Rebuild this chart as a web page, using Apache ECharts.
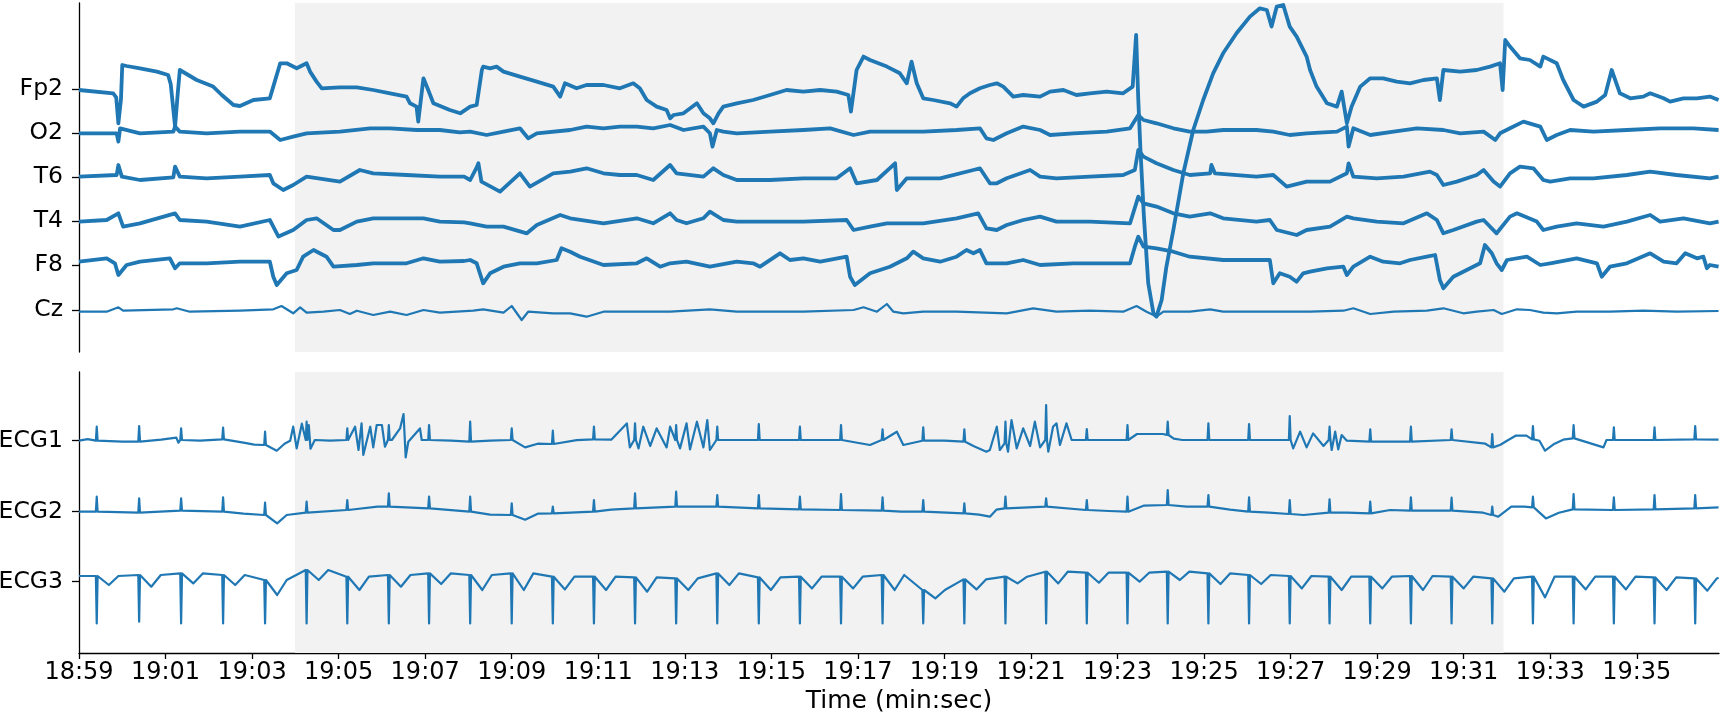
<!DOCTYPE html>
<html>
<head>
<meta charset="utf-8">
<script src="https://cdn.jsdelivr.net/npm/echarts@6/dist/echarts.min.js"></script>
<style>
  html, body { margin: 0; padding: 0; background: #fff; }
  #chart { width: 1724px; height: 721px; }
</style>
</head>
<body>
<div id="chart"></div>
<script>
// time axis: seconds after 18:59
const startSec = 18 * 60 + 59;
const xMax = 37.9;
const xTicks = [0, 2, 4, 6, 8, 10, 12, 14, 16, 18, 20, 22, 24, 26, 28, 30, 32, 34, 36];
const markedSpan = [4.99, 32.92];

// EEG channels, top panel (values are deviations from each channel's baseline)
const eegNames = ['Fp2', 'O2', 'T6', 'T4', 'F8', 'Cz'];
const eegOffsets = [220.7, 176.7, 132.7, 88.7, 45, 0];

const fp2 = [[0,-0.7],[0.79,-4],[0.86,-8],[0.91,-34],[0.97,-10],[1.00,24.3],[1.10,23.3],[1.41,21],[1.80,17.7],[2.06,14.3],[2.12,5],[2.22,-37.3],[2.28,-5],[2.33,19.3],[2.72,9.3],[3.10,2.7],[3.30,-5.7],[3.57,-15.7],[3.72,-16.7],[4.03,-10.7],[4.41,-9],[4.49,2.7],[4.65,26],[4.80,26],[5.03,21],[5.18,24.3],[5.26,26],[5.34,17.7],[5.49,7.7],[5.61,1],[6.03,2],[6.42,2],[6.80,-0.7],[7.19,-4],[7.57,-7.3],[7.65,-14],[7.80,-17.3],[7.84,-32.3],[7.96,11],[8.07,-0.7],[8.19,-14],[8.57,-20.7],[8.81,-24],[9.04,-17.3],[9.19,-15.7],[9.31,19.3],[9.34,22.7],[9.50,21],[9.65,22.7],[9.81,17.7],[10.19,12.7],[10.58,7.7],[10.96,2.7],[11.12,-7.3],[11.23,6],[11.50,1],[11.73,4.3],[12.12,4.3],[12.50,1],[12.81,6],[12.96,1],[13.12,-10.7],[13.35,-17.3],[13.58,-20.7],[13.66,-29],[13.74,-25.7],[13.97,-24],[14.28,-14],[14.43,-24],[14.58,-29],[14.66,-34],[14.78,-24],[14.89,-17.3],[15.20,-14],[15.58,-10.7],[15.97,-5.7],[16.35,-0.7],[16.74,-2.3],[17.13,-0.7],[17.51,-2.3],[17.78,-5.7],[17.84,-22.3],[17.97,19.3],[18.13,32.7],[18.28,29.3],[18.67,22.7],[18.97,16],[19.13,6],[19.24,27.7],[19.36,6],[19.51,-9],[19.74,-10.7],[20.13,-14],[20.28,-17.3],[20.43,-9],[20.59,-4],[20.82,1],[21.05,4.3],[21.21,6],[21.36,2.7],[21.59,-7.3],[21.82,-5.7],[22.21,-7.3],[22.44,-2.3],[22.75,-0.7],[23.05,-5.7],[23.36,-4],[23.75,-2.3],[24.13,-4],[24.35,2.7],[24.43,54.3],[24.48,-10.7],[24.53,-60.7],[24.61,-127.3],[24.71,-194],[24.83,-224],[24.90,-227.3],[25.02,-210.7],[25.13,-177.3],[25.29,-140.7],[25.52,-84],[25.75,-40.7],[25.98,-10.7],[26.21,16],[26.44,36],[26.75,56],[27.06,72.7],[27.29,81],[27.45,79.3],[27.56,62.7],[27.68,82.7],[27.83,84.3],[27.98,62.7],[28.14,52.7],[28.37,32.7],[28.45,19.3],[28.60,2.7],[28.84,-14],[29.07,-17.3],[29.18,-2.3],[29.30,-34],[29.41,-17.3],[29.61,2.7],[29.84,11],[30.14,11],[30.45,7.7],[30.76,6],[31.07,9.3],[31.38,11],[31.45,-10.7],[31.53,19.3],[31.92,17.7],[32.30,19.3],[32.61,22.7],[32.84,26],[32.90,-0.7],[32.96,49.3],[33.07,42.7],[33.30,31],[33.53,29.3],[33.77,22.7],[33.84,32.7],[34.15,26],[34.30,9.3],[34.54,-10.7],[34.77,-17.3],[35.08,-12.3],[35.27,-5.7],[35.42,19.3],[35.61,-4],[35.85,-9],[36.15,-7.3],[36.31,-4],[36.62,-9],[36.77,-12.3],[37.08,-9],[37.39,-9],[37.69,-7.3],[37.89,-10.7]];

const o2 = [[0,0],[0.87,0],[0.91,-8.3],[0.95,5],[1.41,0],[2.18,1.7],[2.22,6.7],[2.33,1.7],[2.95,0],[3.72,1.7],[4.41,1.7],[4.65,-6.7],[4.95,-3.3],[5.26,0],[6.03,1.7],[6.73,5],[7.19,5],[7.80,3.3],[8.34,3.3],[8.80,1],[9.04,1.7],[9.42,-1.7],[9.81,1.7],[10.19,5],[10.38,-5],[10.58,0],[11.35,3.3],[11.73,6.7],[12.12,5],[12.50,6.7],[12.89,6.7],[13.27,5],[13.66,8.3],[13.97,3.3],[14.43,6.7],[14.58,0],[14.64,-13.3],[14.74,3.3],[14.89,1.7],[15.20,0],[15.97,1.7],[16.74,3.3],[17.36,5],[17.90,-1.7],[18.28,1.7],[18.74,1.7],[19.51,1.7],[20.28,3.3],[20.82,5],[20.97,-5],[21.13,-6.7],[21.44,0],[21.82,6.7],[22.21,3.3],[22.44,-1.7],[22.98,0],[23.75,1.7],[24.29,5],[24.48,18.3],[24.60,13.3],[24.90,10],[25.29,5],[25.67,1.7],[26.06,1.7],[26.44,3.3],[27.21,3.3],[27.60,1.7],[27.98,-1.7],[28.37,0],[29.07,1.7],[29.30,6.7],[29.34,-13.3],[29.45,5],[29.84,-1.7],[30.38,1.7],[30.92,5],[31.53,3.3],[31.92,0],[32.46,1.7],[32.73,-6.7],[32.84,0],[33.07,5],[33.38,11.7],[33.77,6.7],[33.92,-6.7],[34.15,-1.7],[34.46,3.3],[35.00,1.7],[35.77,3.3],[36.54,5],[37.31,5],[37.89,3.3]];

const t6 = [[0,0.7],[0.87,2.3],[0.91,12.3],[0.99,0.7],[1.41,-2.7],[2.18,0],[2.22,10.7],[2.33,0.7],[2.95,-1],[3.72,0.7],[4.41,2.3],[4.49,-6],[4.72,-12.7],[4.95,-7.7],[5.26,0.7],[6.03,-4.3],[6.49,7.3],[6.80,4],[7.57,2.3],[8.34,0.7],[8.90,0.7],[9.04,-2.7],[9.20,10.7],[9.23,14],[9.30,-4.3],[9.73,-14.3],[10.19,4],[10.42,-9.3],[10.96,4],[11.35,5.7],[11.73,9],[12.12,4],[12.50,2.3],[12.89,2.3],[13.27,-2.7],[13.66,12.3],[13.81,4],[14.43,0.7],[14.66,9],[14.89,2.3],[15.20,-2.7],[15.97,-2.7],[16.74,-1],[17.51,-1],[17.82,9],[17.97,-6],[18.44,-2.7],[18.86,14],[18.90,-12.7],[19.13,-1],[19.90,-1],[20.67,7.3],[20.82,9],[21.05,-6],[21.21,-6],[21.44,-1],[21.98,7.3],[22.21,0.7],[22.59,-1],[23.36,0.7],[24.13,2.3],[24.40,7.3],[24.48,27.3],[24.60,20.7],[24.90,14],[25.29,7.3],[25.67,2.3],[26.14,4],[26.17,12.3],[26.25,4],[27.21,0.7],[27.60,2.3],[27.91,-9.3],[28.37,-4.3],[28.91,-4.3],[29.30,4],[29.34,14],[29.45,0.7],[29.99,-1],[30.61,0.7],[31.22,5.7],[31.38,2.3],[31.53,-7.7],[31.84,-4.3],[32.30,2.3],[32.46,7.3],[32.69,-4.3],[32.84,-9.3],[33.07,4],[33.30,10.7],[33.61,9],[33.84,-2.7],[34.00,-4.3],[34.46,-1],[35.00,-1],[35.77,2.3],[36.31,5.7],[36.92,2.3],[37.69,-1],[37.89,0.7]];

const t4 = [[0,-0.3],[0.64,1.3],[0.91,8],[1.02,-5.3],[1.41,-2],[2.22,8],[2.33,1.3],[2.95,-0.3],[3.72,-5.3],[4.41,1.3],[4.49,-5.3],[4.61,-15.3],[4.95,-8.7],[5.26,1.3],[5.49,3],[5.88,-8.7],[6.03,-8.7],[6.42,-0.3],[6.80,3],[7.57,3],[7.96,3],[8.34,-0.3],[8.90,-1],[9.04,-2],[9.42,-5.3],[9.81,-5.3],[10.35,-12],[10.58,-3.7],[11.12,6.3],[11.35,3],[12.12,-2],[12.89,3],[13.27,-2],[13.66,8],[13.81,1.3],[14.04,-2],[14.43,3],[14.58,9.7],[14.89,1.3],[15.20,-0.3],[15.97,-0.3],[16.74,-0.3],[17.74,1.3],[17.90,-8.7],[18.28,-5.3],[18.67,-2],[19.51,-2],[20.28,3],[20.78,8],[20.97,-7],[21.21,-8.7],[21.44,-3.7],[21.82,1.3],[22.21,4.7],[22.59,-0.3],[23.36,-0.3],[24.29,-2],[24.48,24.7],[24.60,18],[24.90,14.7],[25.29,8],[25.67,4.7],[26.14,8],[26.44,3],[27.21,-0.3],[27.52,1.3],[27.68,-8.7],[28.14,-13.7],[28.37,-8.7],[28.91,-5.3],[29.30,4.7],[29.45,3],[29.99,-0.3],[30.61,-2],[31.15,8],[31.38,1.3],[31.53,-12],[31.76,-8.7],[32.30,-0.3],[32.46,1.3],[32.76,-12],[33.07,4.7],[33.23,8],[33.69,-0.3],[33.84,-8.7],[34.15,-5.3],[34.61,-2],[35.23,-5.3],[35.77,-0.3],[36.31,6.3],[36.54,-0.3],[37.08,3],[37.69,-2],[37.89,-0.3]];

const f8 = [[0,3.3],[0.64,6.7],[0.83,1.7],[0.91,-10],[1.10,0],[1.41,3.3],[2.10,6.7],[2.22,-3.3],[2.33,1.7],[2.95,1.7],[3.72,3.3],[4.41,3.3],[4.49,-11.7],[4.57,-20],[4.80,-8.3],[5.03,-5],[5.18,8.3],[5.42,15],[5.72,8.3],[5.88,-1.7],[6.42,0],[6.80,1.7],[7.19,1.7],[7.57,1.7],[7.96,6.7],[8.34,3.3],[8.90,4],[9.04,5],[9.19,1.7],[9.34,-18.3],[9.50,-8.3],[9.81,-1.7],[10.19,1.7],[10.58,1.7],[11.04,5],[11.15,16.7],[11.35,13.3],[11.58,8.3],[12.12,0],[12.89,1.7],[13.12,6.7],[13.43,-1.7],[13.66,1.7],[14.04,3.3],[14.58,-1.7],[15.20,3.3],[15.58,1.7],[15.74,-1.7],[16.20,11.7],[16.43,5],[16.74,6.7],[17.13,3.3],[17.74,8.3],[17.82,-11.7],[17.93,-20],[18.28,-8.3],[18.74,-1.7],[19.13,6.7],[19.28,13.3],[19.51,6.7],[19.90,3.3],[20.28,8.3],[20.51,15],[20.67,11.7],[20.82,15],[20.97,1.7],[21.44,1.7],[21.82,5],[22.21,0],[22.98,1.7],[23.75,1.7],[24.29,1.7],[24.40,18.3],[24.48,28.3],[24.60,18.3],[24.90,16.7],[25.29,13.3],[25.67,8.3],[26.44,5],[27.21,5],[27.52,5],[27.60,-18.3],[27.75,-8.3],[27.98,-11.7],[28.14,-16.7],[28.29,-8.3],[28.45,-6.7],[28.84,-3.3],[29.22,-1.7],[29.30,-10],[29.45,-1.7],[29.84,8.3],[30.14,3.3],[30.53,1.7],[30.76,5],[31.15,8.3],[31.34,10],[31.45,-15],[31.53,-23.3],[31.76,-11.7],[32.15,-3.3],[32.38,1.7],[32.49,20],[32.65,11.7],[32.76,1.7],[32.88,-5],[33.00,5],[33.46,8.3],[33.77,0],[34.00,1.7],[34.61,6.7],[35.08,1.7],[35.19,-11.7],[35.38,-1.7],[35.77,1.7],[36.31,11.7],[36.62,3.3],[36.92,1.7],[37.12,11.7],[37.39,6.7],[37.54,8.3],[37.62,-3.3],[37.69,0],[37.89,-1.7]];

const cz = [[0,-1.7],[0.64,-1.7],[0.91,2.7],[1.02,-0.7],[2.18,0.7],[2.26,1.7],[2.56,-1.7],[3.72,-0.7],[4.49,0.7],[4.68,4],[4.95,-3.3],[5.11,2.7],[5.26,-2.7],[5.65,-1.7],[6.03,0],[6.26,-4],[6.42,-0.7],[6.80,-5],[7.19,-1.7],[7.57,-5],[7.96,0],[8.34,-2.7],[9.11,-0.7],[9.34,0.7],[9.81,-2.7],[10.00,4],[10.23,-10],[10.38,-1.7],[10.96,-3.3],[11.35,-3.3],[11.73,-6.7],[12.12,-1.7],[12.89,-1.7],[13.66,-1.7],[14.58,0.7],[15.20,-1.7],[16.74,-1.7],[17.90,0],[18.13,2.7],[18.44,-1.7],[18.67,6],[18.82,-1.7],[19.05,-3.3],[19.51,-1.7],[20.28,-1.7],[21.44,-3.3],[22.05,1.7],[22.59,-1.7],[23.36,-0.7],[24.13,-1.7],[24.44,4],[24.67,-1.7],[24.83,-5],[24.90,-6.7],[25.06,-1.7],[25.67,-1.7],[26.14,0.7],[26.44,-1.7],[27.98,-1.7],[28.45,-1.7],[29.22,-0.7],[29.45,1.7],[29.84,-4],[30.38,-1.7],[31.15,-0.7],[31.53,1.7],[31.99,-3.3],[32.30,-1.7],[32.69,0],[32.88,-4],[33.23,0.7],[33.53,0],[33.84,-2.7],[34.15,-3.3],[34.61,-1.7],[35.38,-1.7],[36.15,-0.7],[36.92,-1.7],[37.89,-1]];

const eegData = [fp2, o2, t6, t4, f8, cz];

// ECG channels, bottom panel
const ecgNames = ['ECG1', 'ECG2', 'ECG3'];
const ecgOffsets = [141, 70, 0];

// heart beat times (s)
const beats = [0.41,1.39,2.36,3.33,4.30,5.26,6.20,7.16,8.09,9.04,10.00,10.95,11.90,12.85,13.80,14.75,15.71,16.66,17.61,18.57,19.51,20.46,21.41,22.35,23.29,24.23,25.16,26.10,27.04,27.98,28.90,29.84,30.78,31.72,32.66,33.60,34.54,35.47,36.41,37.35];

const ecg1Base = [0,-1,0.7,1.3,-4.3,0.7,0.7,0.7,0.7,-1,0.7,-3.3,1.3,0.7,0.7,0.7,0.7,0.7,0.7,0.7,0,-1,-2.7,0.7,0.7,0.7,5.7,0.7,0.7,0.7,0.7,-1,-1,0.7,-6.7,1.3,2.3,0.7,0.7,1.3];
const ecg1Peak = [14,14.7,12.3,13,9,19,12.3,15.7,15.7,19,12.3,10,14,17.3,15.7,14,16.7,14,15.7,11.3,13.3,11.3,19,35.7,11.7,15.7,19,17.3,16.7,24.7,14,11.3,14,11.3,6.7,14.7,15.7,13.3,13.3,14.7];
const ecg1Extra = [[0,0],[0.2,1.5],[1.0,-1],[1.9,1],[2.25,3],[2.3,-2],[2.8,0],[3.8,-2],[4.05,-4],[4.57,-10],[4.75,-3],[4.88,0],[4.95,14],[5.03,-7.7],[5.15,17],[5.31,15.7],[5.35,-8],[5.45,0.7],[5.8,0],[6.38,14],[6.46,-9.3],[6.53,17.3],[6.57,-14.3],[6.73,14],[6.80,-6.7],[6.88,15.7],[7.0,15.7],[7.07,-6],[7.23,0.7],[7.42,12.3],[7.50,26.7],[7.55,-16.7],[7.61,-1],[7.88,12.3],[7.92,0.7],[8.6,0],[9.5,0],[10.31,-6.7],[10.6,-3],[11.5,0.5],[12.3,1],[12.66,17.3],[12.73,-6.7],[12.93,-7.7],[13.04,14],[13.2,-5.3],[13.35,12.3],[13.58,-6.7],[13.66,14],[13.89,-7.7],[14.04,17.3],[14.12,-8.7],[14.28,19],[14.43,-6.7],[14.52,20.7],[14.58,-9.3],[14.97,0.7],[16.2,0.7],[18.28,-4.3],[18.9,9],[19.05,-4.3],[20.0,0],[20.67,-5.3],[20.97,-11],[21.05,-9.3],[21.21,14],[21.28,-9.3],[21.47,-11],[21.55,20.7],[21.67,-7.7],[21.82,12.3],[21.98,-5.3],[22.09,19],[22.21,-6.7],[22.40,-11],[22.51,14],[22.59,17.3],[22.67,-4.3],[22.82,17.3],[22.94,0.7],[24.45,6.7],[25.05,6.7],[25.3,2],[25.5,0.7],[28.06,-7.7],[28.22,9],[28.37,-6.7],[28.52,7.3],[28.76,-5.3],[28.95,-9.3],[29.03,9],[29.10,-8.7],[29.18,5.7],[29.3,0],[32.5,-3],[32.85,-4],[33.0,0],[33.2,5],[33.45,5],[33.75,0],[33.88,-10],[34.1,-3],[34.3,1],[35.23,-6.7],[35.3,0.7],[37.89,1]];

const ecg2Base = [0,-1,1,0,-3.3,-1,1.7,5,3.3,0,-3.3,-1.7,0,3.3,5,5,3.3,2.3,1.7,1,0,-1.7,3.3,5,1.7,0,6.7,5,0,-2.3,-1,-1.7,1,1,-3.3,4.3,2.3,1.7,2.3,3.3];
const ecg2Peak = [15,13.3,13.3,14.3,9,10,11.7,18.3,15,15,8.3,5,11.7,18.3,20,16.7,16.7,15,17.7,14.3,11.7,8.3,15,13.3,11.7,15,21.7,16.7,14.3,11.7,12.3,10,14.3,14,5,15,17.7,14.3,16.7,16.7];
const ecg2Extra = [[0,0],[3.8,-2],[4.58,-11.7],[4.8,-3.3],[6.9,5],[9.5,-3],[10.31,-8],[10.6,-2],[12.3,2],[14.2,5],[19.0,0],[20.8,-3],[21.05,-5],[21.2,2],[23.8,0.7],[24.6,6],[25.6,5],[26.6,2],[27.5,-1],[28.3,-3.3],[29.3,-1],[30.3,1.7],[32.45,-1],[32.8,-5],[33.1,5],[33.4,5],[33.9,-6.7],[34.2,-1],[37.89,4.3]];

const ecg3Base = [5.7,6.7,8.3,6.7,1.7,11.7,5,6.7,8.3,6.7,8.3,5,5,4.3,3.3,8.3,4.3,5,5,6.7,-8.3,2.3,5,10,9,9,10,8.3,6.7,5.7,5,5,5.7,5,3.3,5,5,5,4.3,3.3];
const ecg3Trough = [-41.7,-40,-41.7,-41.7,-41.7,-41.7,-41.7,-41.7,-41.7,-41.7,-41.7,-41.7,-41.7,-41.7,-41.7,-41.7,-41.7,-41.7,-41.7,-41.7,-41.7,-41.7,-41.7,-41.7,-41.7,-41.7,-41.7,-41.7,-41.7,-41.7,-41.7,-41.7,-41.7,-41.7,-41.7,-41.7,-41.7,-41.7,-41.7,-41.7];
const ecg3TWave = [-3.3,-5,-1.7,-3.3,-13.3,1.7,-8.3,-5,-2.3,-8.3,-8.3,-7.7,-8.3,-10,-8.3,-3.3,-8.3,-6.7,-6.7,-8.3,-16.7,-7.7,-1.7,-1.7,-1,0,1.7,-2.3,-2.3,-6.7,-8.3,-6.7,-8.3,-6.7,-10,-15.7,-7.7,-7.7,-8.3,-9];
const ecg3Extra = [[0,5.7],[37.89,4]];

const fontFamily = 'DejaVu Sans';
const lineColor = '#1f77b4';

function fmtTime(v) {
    const s = Math.round(startSec + v);
    const m = Math.floor(s / 60);
    const sec = s % 60;
    return m + ':' + (sec < 10 ? '0' : '') + sec;
}

function labelFor(names, offsets) {
    return v => {
        const i = offsets.findIndex(o => Math.abs(o - v) < 0.01);
        return i >= 0 ? names[i] : '';
    };
}

// one R spike per beat, plus the points read between beats
function ecgSeries(base, peak, extra, tWave) {
    const pts = extra.slice();
    beats.forEach((t, i) => {
        pts.push([t - 0.02, base[i]], [t, peak[i]], [t + 0.02, base[i]]);
        if (tWave) {
            pts.push([t + 0.28, tWave[i]], [t + 0.5, base[i]]);
        }
    });
    return pts.sort((a, b) => a[0] - b[0]);
}

const ecgData = [
    ecgSeries(ecg1Base, ecg1Peak, ecg1Extra),
    ecgSeries(ecg2Base, ecg2Peak, ecg2Extra),
    ecgSeries(ecg3Base, ecg3Trough, ecg3Extra, ecg3TWave)
];

function leftAxis(gridIndex, min, max, names, offsets) {
    return {
        gridIndex, type: 'value', min, max,
        axisLine: { show: true, onZero: false, lineStyle: { color: '#000', width: 1.3 } },
        axisTick: { show: true, customValues: offsets, length: 7, lineStyle: { color: '#000', width: 1.3 } },
        axisLabel: { customValues: offsets, formatter: labelFor(names, offsets), margin: 16,
                     fontSize: 23.5, color: '#000', fontFamily },
        splitLine: { show: false }
    };
}

function shade(xi, yi) {
    return {
        type: 'line', xAxisIndex: xi, yAxisIndex: yi, data: [], z: 1, silent: true,
        markArea: { silent: true, itemStyle: { color: '#f2f2f2' },
                    data: [[{ xAxis: markedSpan[0] }, { xAxis: markedSpan[1] }]] }
    };
}

const series = [shade(0, 0), shade(1, 1)];
eegData.forEach((d, i) => {
    series.push({
        type: 'line', xAxisIndex: 0, yAxisIndex: 0, z: 2, name: eegNames[i],
        data: d.map(p => [p[0], p[1] + eegOffsets[i]]),
        showSymbol: false, symbol: 'none',
        lineStyle: { color: lineColor, width: eegNames[i] === 'Cz' ? 2.2 : 3.8, join: 'round' }
    });
});
ecgData.forEach((d, i) => {
    series.push({
        type: 'line', xAxisIndex: 1, yAxisIndex: 1, z: 2, name: ecgNames[i],
        data: d.map(p => [p[0], p[1] + ecgOffsets[i]]),
        showSymbol: false, symbol: 'none',
        lineStyle: { color: lineColor, width: 2.2, join: 'round' }
    });
});

const chart = echarts.init(document.getElementById('chart'), null, { renderer: 'canvas' });
chart.setOption({
    animation: false,
    backgroundColor: '#fff',
    grid: [
        { left: 79, right: 5, top: 3, height: 349, outerBoundsMode: 'none', containLabel: false },
        { left: 79, right: 5, top: 372, height: 281, outerBoundsMode: 'none', containLabel: false }
    ],
    xAxis: [
        { gridIndex: 0, type: 'value', min: 0, max: xMax, show: false },
        {
            gridIndex: 1, type: 'value', min: 0, max: xMax,
            axisLine: { show: true, onZero: false, lineStyle: { color: '#000', width: 1.3 } },
            axisTick: { show: true, customValues: xTicks, length: 6, lineStyle: { color: '#000', width: 1.3 } },
            axisLabel: { customValues: xTicks, formatter: fmtTime, fontSize: 24, color: '#000', margin: 8, fontFamily },
            splitLine: { show: false },
            name: 'Time (min:sec)', nameLocation: 'middle', nameGap: 36,
            nameTextStyle: { fontSize: 25, color: '#000', fontFamily }
        }
    ],
    yAxis: [
        leftAxis(0, -42, 307, eegNames, eegOffsets),
        leftAxis(1, -71.3, 209.7, ecgNames, ecgOffsets)
    ],
    series
});
</script>
</body>
</html>
